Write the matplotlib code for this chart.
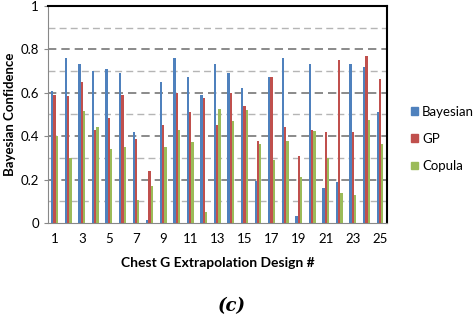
import numpy as np
import matplotlib.pyplot as plt
from matplotlib.patches import Patch

# valores (c)
designs = list(range(1, 26))
bayesian = [0.61, 0.76, 0.73, 0.70, 0.71, 0.69, 0.42, 0.015, 0.65, 0.76,
            0.67, 0.59, 0.73, 0.69, 0.62, 0.195, 0.67, 0.76, 0.034, 0.73,
            0.163, 0.19, 0.73, 0.72, 0.51]
gp = [0.59, 0.585, 0.65, 0.43, 0.485, 0.59, 0.386, 0.24, 0.45, 0.60,
      0.51, 0.576, 0.45, 0.60, 0.54, 0.38, 0.674, 0.44, 0.31, 0.427,
      0.418, 0.75, 0.42, 0.767, 0.664]
copula = [0.40, 0.30, 0.515, 0.44, 0.34, 0.35, 0.104, 0.17, 0.35, 0.43,
          0.373, 0.052, 0.525, 0.47, 0.52, 0.366, 0.289, 0.38, 0.214, 0.422,
          0.298, 0.138, 0.13, 0.473, 0.364]
series = ["Bayesian", "GP", "Copula"]
cores = ["#4f81bd", "#c0504d", "#9bbb59"]

plt.rcParams["font.family"] = ["Lato", "DejaVu Sans"]

fig = plt.figure(figsize=(4.74, 3.21), dpi=100)
ax = fig.add_axes([0.101, 0.305, 0.715, 0.677])

x = np.array(designs)
w = 0.17
for i, (vals, cor) in enumerate(zip([bayesian, gp, copula], cores)):
    ax.bar(x + (i - 1) * w, vals, width=w, color=cor, zorder=3)

ax.set_xlim(0.5, 25.5)
ax.set_ylim(0, 1)
ax.set_yticks(np.arange(0, 1.01, 0.2))
ax.set_yticklabels(["0", "0.2", "0.4", "0.6", "0.8", "1"])
ax.set_xticks(designs[::2])
ax.tick_params(axis="both", labelsize=9.5, length=3, color="#888888")
ax.tick_params(axis="x", length=0, pad=7)

# grade: linhas principais escuras, secundarias claras
for v in np.arange(0.1, 1.0, 0.1):
    if round(v * 10) % 2 == 0:
        ax.axhline(v, color="#777777", lw=1.2, ls=(0, (5, 3)), zorder=1)
    else:
        ax.axhline(v, color="#b5b5b5", lw=1.0, ls=(0, (5, 3)), zorder=1)

ax.spines["left"].set_color("#888888")
ax.spines["bottom"].set_color("#888888")
ax.spines["top"].set_color("black")
ax.spines["right"].set_color("black")
ax.spines["top"].set_linewidth(1.5)
ax.spines["right"].set_linewidth(1.5)

ax.set_ylabel("Bayesian Confidence", fontsize=9.5, fontweight="bold")
ax.yaxis.set_label_coords(-0.095, 0.5)
ax.set_xlabel("Chest G Extrapolation Design #", fontsize=10, fontweight="bold", labelpad=9)

handles = [Patch(color=c) for c in cores]
fig.legend(handles, series, loc="center left", bbox_to_anchor=(0.853, 0.567),
           frameon=False, fontsize=9.5, handlelength=0.55, handleheight=0.55,
           handletextpad=0.3, labelspacing=1.15, borderpad=0)

fig.text(0.49, 0.03, "(c)", fontsize=13, fontweight="bold", style="italic",
         family="DejaVu Serif", ha="center")

fig.savefig("out.png", dpi=100)
